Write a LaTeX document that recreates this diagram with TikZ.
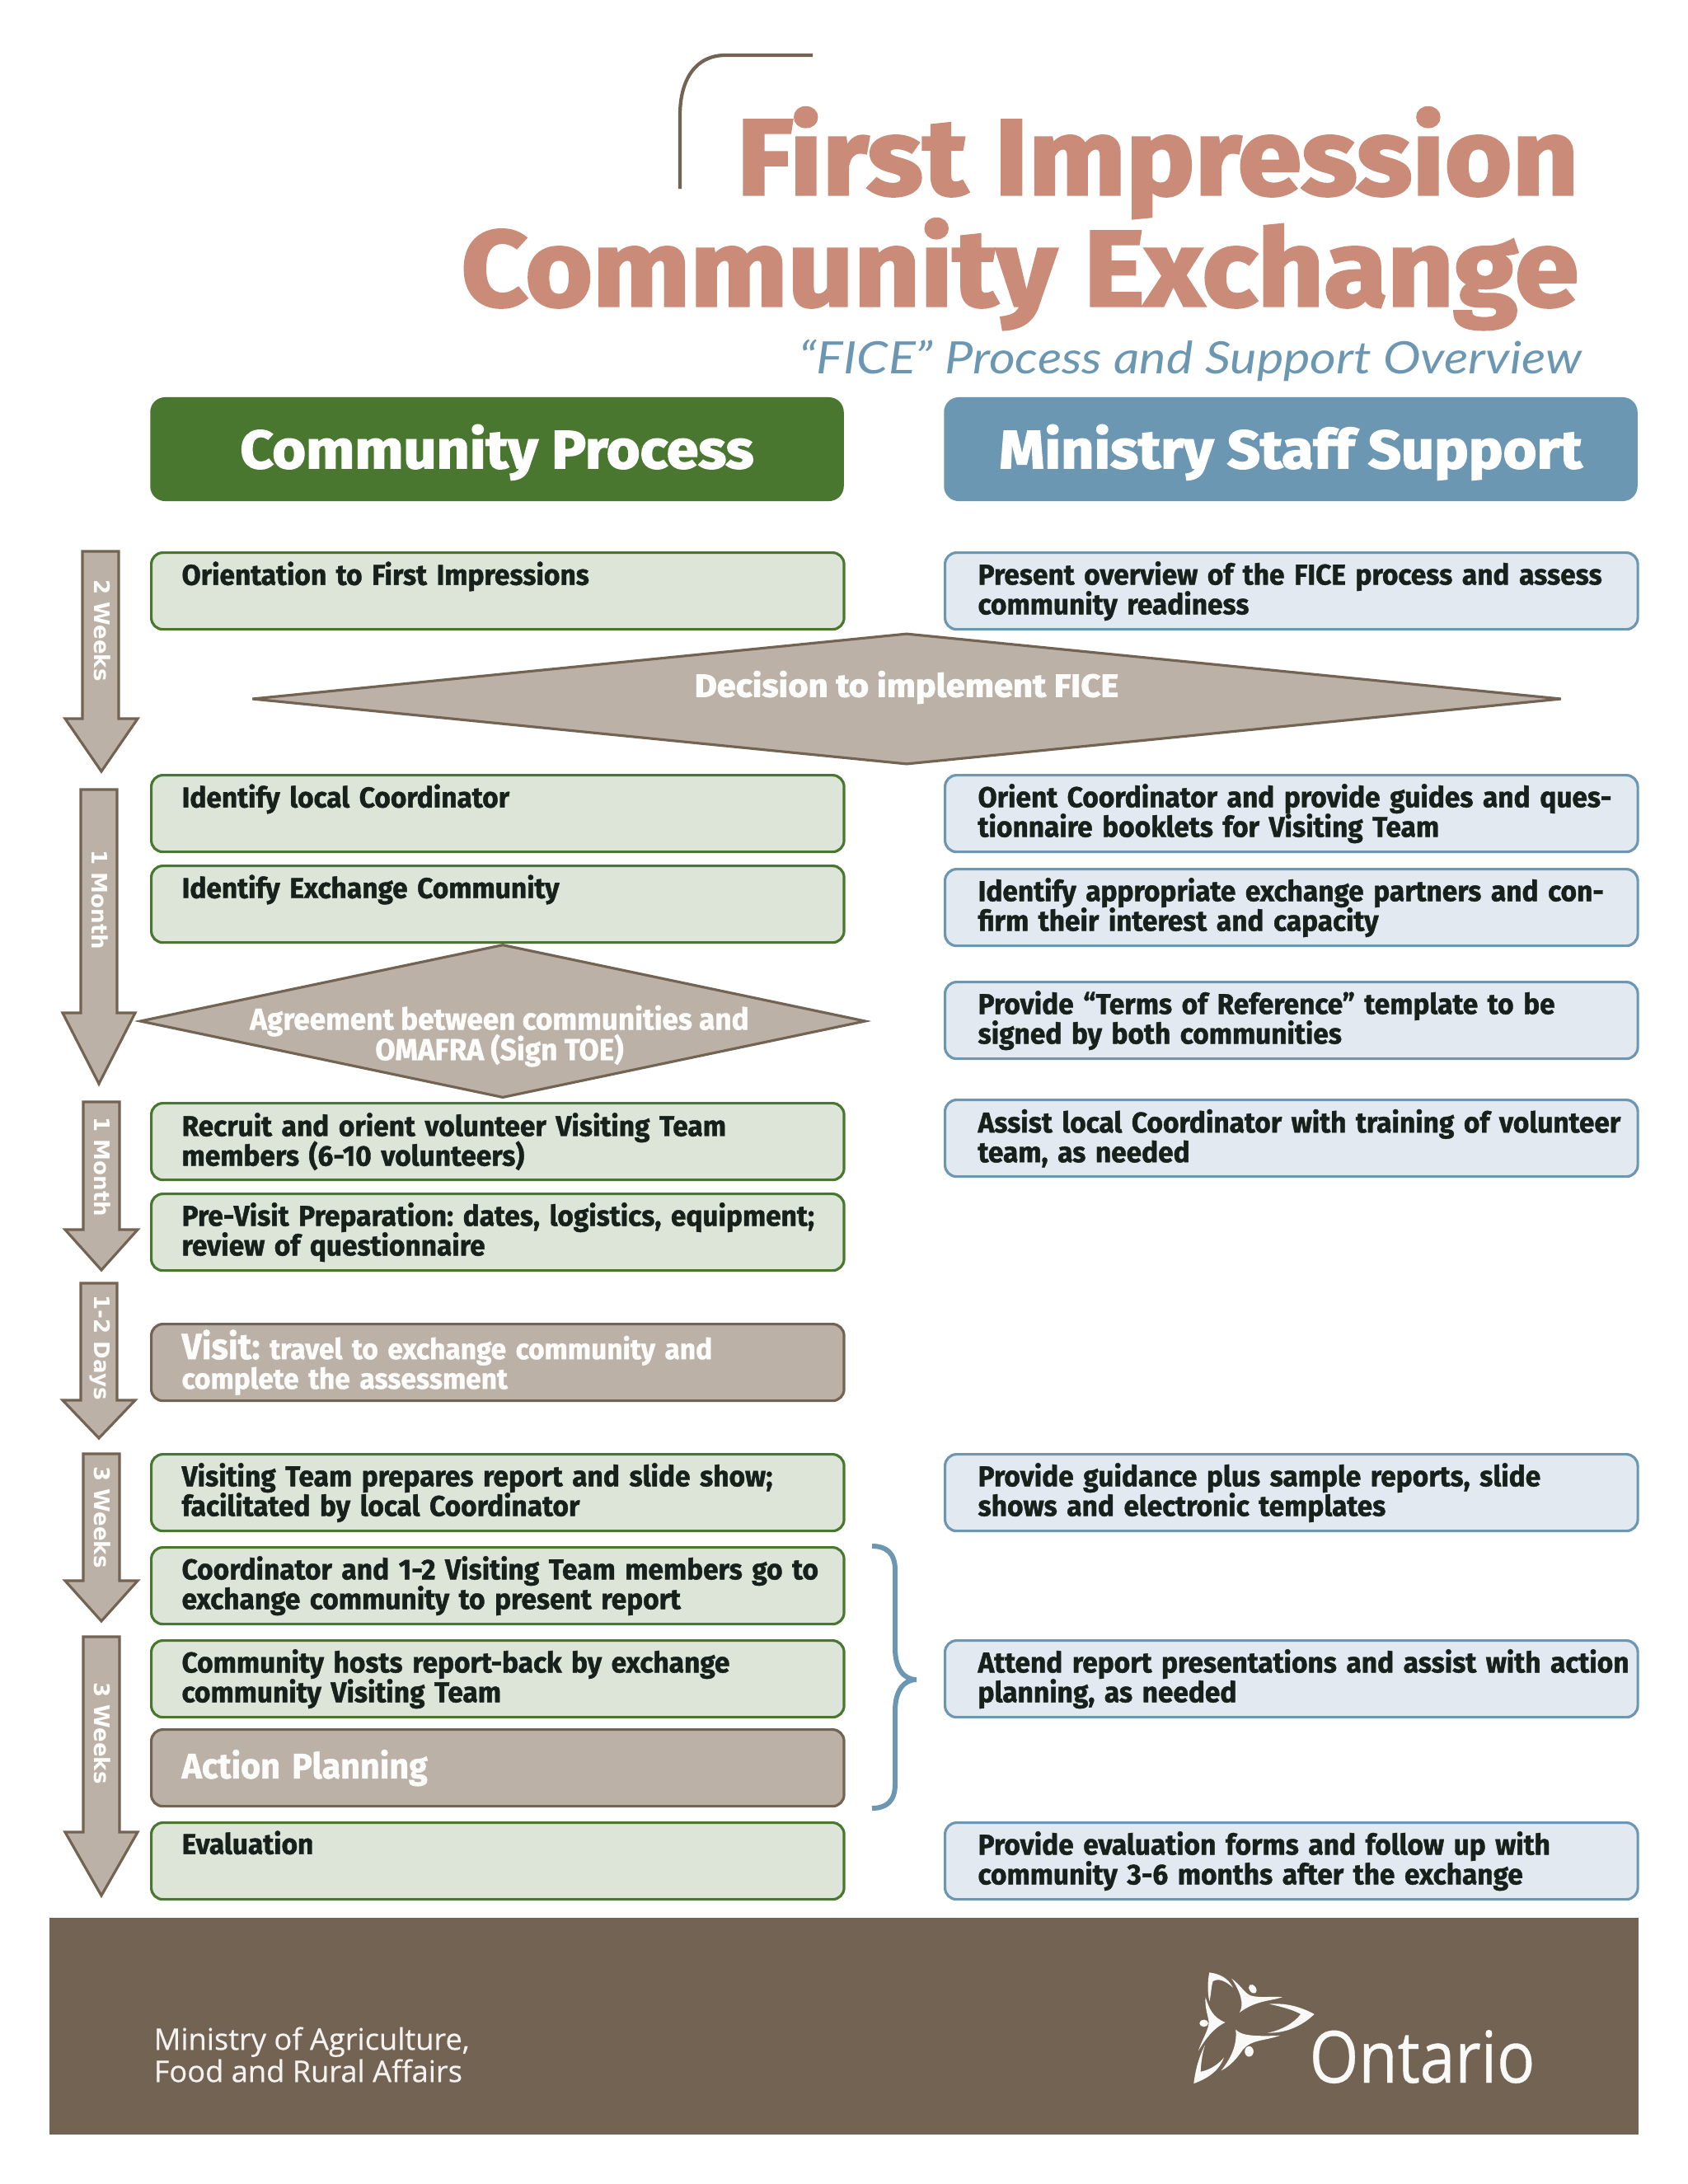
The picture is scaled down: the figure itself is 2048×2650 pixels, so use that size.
\documentclass[tikz,border=0pt]{standalone}
\usepackage{fontspec}
\usetikzlibrary{shapes.geometric}
\setmainfont{Fira Sans}[BoldFeatures={FakeStretch=0.96,FakeBold=1.2}]
\newfontfamily\titlefont{Fira Sans}[BoldFeatures={FakeStretch=1.076,FakeBold=2.5}]
\newfontfamily\timefont{DejaVu Sans}
\newfontfamily\subfont{Lato}[FakeStretch=1.13]
\newfontfamily\footfont{Open Sans}[FakeBold=0.4]
\newfontfamily\ontfont{Open Sans}[FakeStretch=0.88,FakeBold=0.4]
\AtBeginDocument{\frenchspacing}
\definecolor{titlered}{HTML}{CB8B79}
\definecolor{procgreen}{HTML}{4A7730}
\definecolor{palegreen}{HTML}{DDE5D8}
\definecolor{staffblue}{HTML}{6B97B3}
\definecolor{paleblue}{HTML}{E3E9F0}
\definecolor{tan}{HTML}{BCB1A7}
\definecolor{umber}{HTML}{736353}
\definecolor{inktext}{HTML}{17201A}
\tikzset{
  head/.style={anchor=center, rounded corners=0.18cm, minimum width=8.41cm, minimum height=1.26cm, text=white,
    text height=0.46cm, text depth=0cm, font=\titlefont\fontsize{18.5}{20}\selectfont\bfseries},
  stepbox/.style={anchor=north west, draw, line width=0.9pt, rounded corners=0.14cm, minimum width=8.4cm, minimum height=0.93cm,
    inner xsep=0, inner ysep=0, text width=8.4cm, align=left, text=inktext,
    execute at begin node={\leftskip=0.37cm\relax\lineskiplimit=-8pt\relax\baselineskip=10.25pt\relax},
    font=\fontsize{9.9}{10.25}\selectfont\bfseries},
  commbox/.style={stepbox, draw=procgreen, fill=palegreen},
  staffbox/.style={stepbox, draw=staffblue, fill=paleblue,
    execute at begin node={\leftskip=0.4cm\relax}},
  tanbox/.style={stepbox, draw=umber, fill=tan, text=white!96!tan},
  gate/.style={diamond, draw=umber, fill=tan, line width=0.9pt, inner sep=0},
  gatetext/.style={text=white!96!tan, align=center, execute at begin node={\lineskiplimit=-8pt\relax},
    font=\fontsize{10.4}{10.5}\selectfont\bfseries},
  timetext/.style={rotate=-90, text=white!96!tan, font=\timefont\fontsize{7.4}{10}\selectfont\bfseries},
  timearrow/.style={draw=umber, fill=tan, line width=0.9pt, line join=miter},
}
\begin{document}
\begin{tikzpicture}[x=0.01cm,y=-0.01cm]
\useasboundingbox (0,0) rectangle (2048,2650);
% title
\draw[umber, line width=1.2pt] (986,67) -- (880,67) .. controls (845,67) and (825,95) .. (825,140) -- (825,229);
\node[anchor=base east, inner sep=0, text=titlered, font=\titlefont\fontsize{37}{40}\selectfont\bfseries] (title1) at (1916,236) {First Impression};
\node[anchor=base east, inner sep=0, text=titlered, font=\titlefont\fontsize{37}{40}\selectfont\bfseries] (title2) at (1916,371) {Community Exchange};
\node[anchor=base east, inner sep=0, text=staffblue, font=\subfont\fontsize{15.4}{18}\selectfont\itshape] (subtitle) at (1920,453) {“FICE” Process and Support Overview};
% column heads
\node[head, fill=procgreen] (commhead) at (603,545) {Community Process};
\node[head, fill=staffblue] (staffhead) at (1566,545) {Ministry Staff Support};
% time arrows
\foreach \xl/\xm/\top/\neck/\tip/\ylab/\txt/\nm in {
  100/123/669/872/936/765/2 Weeks/two,
  98/120/958/1229/1315/1092/1 Month/month,
  101/123/1337/1492/1541/1416/1 Month/recruit,
  98/120/1557/1699/1745/1635/1-2 Days/visit,
  101/123/1764/1918/1967/1841/3 Weeks/report,
  101/123/1986/2223/2300/2103/3 Weeks/action} {
  \draw[timearrow] (\xl,\top) -- (\xl+44,\top) -- (\xl+44,\neck) -- (\xm+44,\neck) -- (\xm,\tip)
    -- (\xm-44,\neck) -- (\xl,\neck) -- cycle;
  \node[timetext] (time\nm) at (\xm+1,\ylab) {\txt};
}
% community column
\node[commbox] (orient) at (182,669) {Orientation to First Impressions\\[2pt] \mbox{}};
\node[commbox] (coord) at (182,939) {Identify local Coordinator\\[2pt] \mbox{}};
\node[commbox] (exch) at (182,1049) {Identify Exchange Community\\[2pt] \mbox{}};
\node[commbox] (recruit) at (182,1337) {Recruit and orient volunteer Visiting Team\\members (6-10 volunteers)};
\node[commbox] (previsit) at (182,1447) {Pre-Visit Preparation: dates, logistics, equipment;\\review of questionnaire};
\node[tanbox] (visit) at (182,1605) {{\fontsize{12.5}{10.3}\selectfont Visit:} travel to exchange community and\\complete the assessment};
\node[commbox] (prepare) at (182,1763) {Visiting Team prepares report and slide show;\\facilitated by local Coordinator};
\node[commbox] (present) at (182,1876) {Coordinator and 1-2 Visiting Team members go to\\exchange community to present report};
\node[commbox] (hosts) at (182,1989) {Community hosts report-back by exchange\\community Visiting Team};
\node[tanbox, font=\fontsize{12.2}{12}\selectfont\bfseries] (plan) at (182,2097) {Action Planning};
\node[commbox] (eval) at (182,2210) {Evaluation\\[2.6pt] \mbox{}};
% staff column
\node[staffbox] (overview) at (1145,669) {Present overview of the FICE process and assess\\community readiness};
\node[staffbox] (guides) at (1145,939) {Orient Coordinator and provide guides and ques-\\tionnaire booklets for Visiting Team};
\node[staffbox] (partners) at (1145,1053) {Identify appropriate exchange partners and con-\\firm their interest and capacity};
\node[staffbox] (terms) at (1145,1190) {Provide “Terms of Reference” template to be\\signed by both communities};
\node[staffbox] (training) at (1145,1333) {Assist local Coordinator with training of volunteer\\team, as needed};
\node[staffbox] (samples) at (1145,1763) {Provide guidance plus sample reports, slide\\shows and electronic templates};
\node[staffbox] (attend) at (1145,1989) {Attend report presentations and assist with action\\planning, as needed};
\node[staffbox] (forms) at (1145,2210) {Provide evaluation forms and follow up with\\community 3-6 months after the exchange};
% decisions
\node[gate, minimum width=15.88cm, minimum height=1.59cm, aspect=10] (decision) at (1100,848) {};
\node[gatetext, font=\titlefont\fontsize{11}{12}\selectfont\bfseries] (decisiontext) at (1100,834) {Decision to implement FICE};
\node[gate, minimum width=8.8cm, minimum height=1.86cm, aspect=4.7] (agree) at (610,1239) {};
\node[gatetext] (agreetext) at (606,1257) {Agreement between communities and\\OMAFRA (Sign TOE)};
% brace
\draw[staffblue, line width=1.7pt] (1058,1876) .. controls (1075,1876) and (1086,1884) .. (1086,1905) -- (1086,2000)
  .. controls (1086,2024) and (1096,2038) .. (1112,2038) .. controls (1096,2038) and (1086,2052) .. (1086,2076)
  -- (1086,2165) .. controls (1086,2186) and (1075,2194) .. (1058,2194);
% footer
\fill[umber] (60,2327) rectangle (1988,2590);
\node[anchor=west, inner sep=0, align=left, text=white!92!umber, font=\footfont\fontsize{10.3}{11.1}\selectfont] (ministry) at (186,2493) {Ministry of Agriculture,\\Food and Rural Affairs};
\node[anchor=base west, inner sep=0, text=white!96!umber, font=\ontfont\fontsize{24.8}{26}\selectfont] (ontario) at (1588,2527) {Ontario};
\begin{scope}[shift={(1430,2380)}, x=0.00333cm, y=-0.00333cm, white!96!umber]
\fill (112,40) .. controls (150,45) and (180,60) .. (198,95) .. controls (170,70) and (145,60) .. (125,72) .. controls (118,95) and (118,125) .. (112,145) .. controls (105,110) and (105,75) .. (112,40) -- cycle;
\fill (193,62) .. controls (225,85) and (240,115) .. (262,124) .. controls (300,135) and (340,125) .. (378,130) .. controls (335,145) and (285,140) .. (222,186) .. controls (240,155) and (225,110) .. (193,62) -- cycle;
\fill (330,155) .. controls (390,150) and (445,165) .. (495,192) .. controls (450,235) and (390,262) .. (325,260) .. controls (375,250) and (420,225) .. (445,192) .. controls (415,175) and (375,165) .. (330,155) -- cycle;
\fill (208,248) .. controls (225,265) and (250,275) .. (370,270) .. controls (310,290) and (265,285) .. (235,320) .. controls (215,350) and (190,380) .. (155,398) .. controls (185,360) and (215,310) .. (208,248) -- cycle;
\fill (98,130) .. controls (110,170) and (125,205) .. (170,222) .. controls (125,245) and (100,280) .. (72,325) .. controls (85,285) and (110,250) .. (110,220) .. controls (105,190) and (95,165) .. (98,130) -- cycle;
\fill (55,445) .. controls (62,390) and (75,345) .. (96,305) .. controls (85,340) and (82,370) .. (80,402) .. controls (115,395) and (145,375) .. (165,350) .. controls (150,395) and (110,425) .. (55,445) -- cycle;
\fill[rotate around={35:(270,100)}] (270,100) ellipse (12 and 18);
\fill (92,225) ellipse (16 and 13);
\fill (257,328) ellipse (16 and 19);
\end{scope}
\end{tikzpicture}
\end{document}
